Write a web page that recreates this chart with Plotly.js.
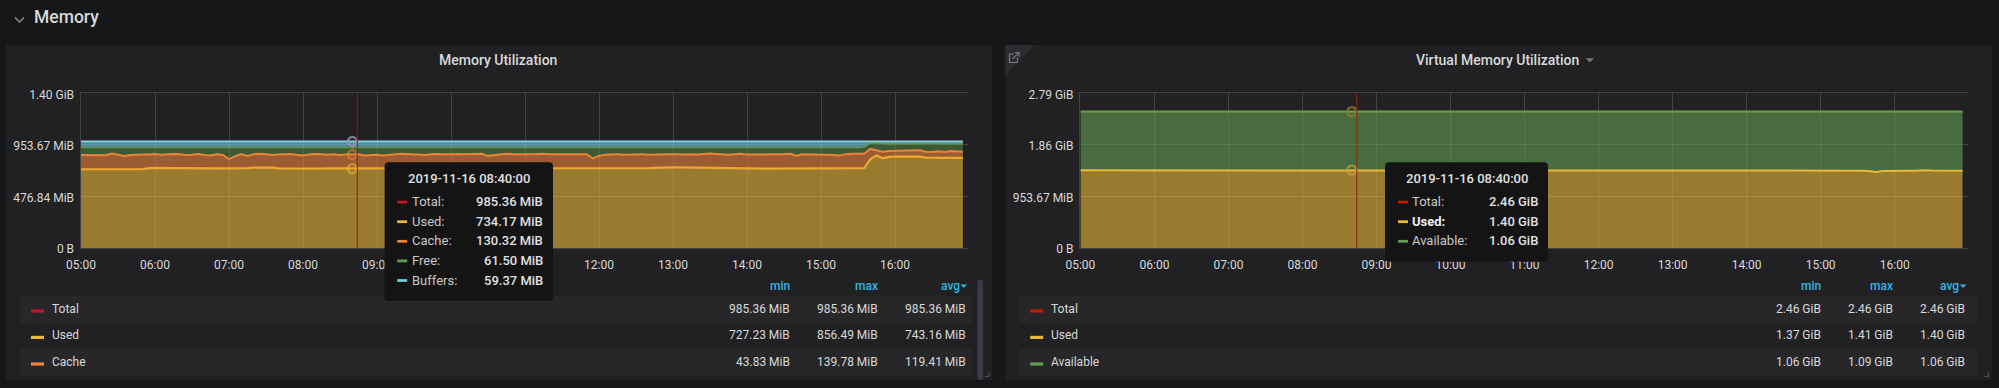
<!DOCTYPE html>
<html>
<head>
<meta charset="utf-8">
<script src="https://cdn.plot.ly/plotly-3.0.1.min.js"></script>
<style>html,body{margin:0;padding:0;background:#161719;overflow:hidden}#c{width:1999px;height:388px}</style>
</head>
<body>
<div id="c"></div>
<script>
// ---------- Memory Utilization, MiB, one reading every 5 minutes from 05:00 ----------
const memUsed = [728,728,728,727,727,728,728,728,728,728,729,
738,741,740,739,738,737,736,
735,735,735,735,735,736,736,736,736,
739,743,745,744,743,
736,735,735,735,735,
735,735,734,
737,737,737,735,734.17,
733,733,733,734,734,734,734,734,734,734,734,734,734,734,734,
734,734,733,733,733,734,734,734,734,734,734,734,734,
734,734,734,734,735,735,735,735,735,735,735,735,735,735,735,736,736,736,737,738,
741,744,745,745,745,744,742,740,
738,737,736,735,735,735,734,734,734,734,734,734,734,734,735,735,735,735,735,735,735,735,735,735,735,735,
738,822,856,830,843,846,846,847,847,845,835,834,834,834,834,834,834];
const memCache = [132,130,128,129,131,146,134,122,132,137,136,
127,129,122,129,132,129,124,
127,133,125,121,131,124,86,114,132,
113,125,127,122,117,
129,135,135,127,120,
129,135,134,
125,129,123,129,130.32,
133,123,125,128,122,124,132,138,134,128,126,126,136,138,134,
132,136,133,135,137,138,118,126,132,138,134,132,130,
134,136,138,132,131,135,137,137,137,133,93,117,127,131,133,126,130,128,131,124,
125,126,123,121,117,120,126,124,
132,137,134,129,127,131,138,130,128,130,130,132,130,132,137,119,131,133,129,127,129,125,121,133,137,135,
134,94,44,61,55,54,57,56,56,58,56,54,60,54,63,60,56];
const memFree = [70,72,74,74,72,56,68,80,70,65,65,
65,60,68,62,60,64,70,
68,62,70,74,64,70,108,80,62,
78,62,56,62,70,
65,60,58,64,72,
64,58,60,
66,62,68,63,61.5,
64,74,72,68,74,72,64,58,62,68,70,70,60,58,62,
64,60,64,62,60,58,78,70,64,58,62,64,66,
62,60,58,64,64,60,58,58,58,62,102,78,68,64,62,68,64,66,62,68,
64,60,62,64,68,66,62,66,
60,56,60,66,68,64,58,66,68,66,66,64,66,64,58,76,64,62,66,68,66,70,74,62,58,60,
62,54,74,77,64,64,62,63,63,62,73,77,70,76,68,70,74];
const memBuffers = [55,55,55,55,55,55,55,55,55,55,55,
55,55,55,55,55,55,55,
55,55,55,55,55,55,55,55,55,
55,57,57,57,55,
55,55,57,59,58,
55,55,55,
55,55,55,59,59.37,
55,55,55,55,55,55,55,55,55,55,55,55,55,55,55,
55,55,55,55,55,55,55,55,55,55,55,55,55,
55,55,55,55,55,55,55,55,55,55,55,55,57,57,55,55,57,57,55,55,
55,55,55,55,55,55,55,55,
55,55,55,55,55,55,55,55,55,55,55,55,55,55,55,55,55,55,55,55,55,55,55,55,55,55,
51,15,11,17,23,21,20,19,19,20,21,20,21,21,20,21,21];
const memTotalEnds = [985.36,985.36];

// ---------- Virtual Memory Utilization, GiB ----------
const vmUsed = [1.401,1.401,1.401,1.401,1.402,1.402,1.401,1.401,1.400,1.400,1.401,1.401,
1.401,1.402,1.402,1.402,1.402,1.403,1.403,1.403,1.403,1.403,1.403,1.403,
1.403,1.403,1.404,1.404,1.404,1.404,1.403,1.403,1.403,1.403,1.404,1.404,
1.404,1.404,1.404,1.405,1.405,1.405,1.404,1.404,1.404,1.404,1.404,1.404,
1.403,1.403,1.403,1.403,1.403,1.403,1.403,1.403,1.403,1.403,1.403,1.403,
1.403,1.403,1.403,1.403,1.403,1.403,1.403,1.403,1.403,1.403,1.403,1.403,
1.403,1.403,1.403,1.402,1.402,1.402,1.403,1.403,1.404,1.404,1.404,1.404,
1.404,1.404,1.404,1.405,1.405,1.405,1.404,1.404,1.404,1.404,1.405,1.405,
1.405,1.405,1.404,1.404,1.404,1.404,1.404,1.404,1.403,1.403,1.403,1.403,
1.403,1.403,1.403,1.402,1.402,1.403,1.403,1.403,1.403,1.403,1.403,1.403,
1.403,1.403,1.403,1.402,1.402,1.402,1.402,
1.395,1.385,1.372,1.388,1.392,1.392,1.392,1.391,1.391,1.398,1.400,1.396,1.398,1.397,1.396,1.396,1.395];
const vmAvailable = [1.059,1.059,1.059,1.059,1.058,1.058,1.059,1.059,1.060,1.060,1.059,1.059,
1.059,1.058,1.058,1.058,1.058,1.057,1.057,1.057,1.057,1.057,1.057,1.057,
1.057,1.057,1.056,1.056,1.056,1.056,1.057,1.057,1.057,1.057,1.056,1.056,
1.056,1.056,1.056,1.055,1.055,1.055,1.056,1.056,1.056,1.056,1.056,1.056,
1.057,1.057,1.057,1.057,1.057,1.057,1.057,1.057,1.057,1.057,1.057,1.057,
1.057,1.057,1.057,1.057,1.057,1.057,1.057,1.057,1.057,1.057,1.057,1.057,
1.057,1.057,1.057,1.058,1.058,1.058,1.057,1.057,1.056,1.056,1.056,1.056,
1.056,1.056,1.056,1.055,1.055,1.055,1.056,1.056,1.056,1.056,1.055,1.055,
1.055,1.055,1.056,1.056,1.056,1.056,1.056,1.056,1.057,1.057,1.057,1.057,
1.057,1.057,1.057,1.058,1.058,1.057,1.057,1.057,1.057,1.057,1.057,1.057,
1.057,1.057,1.057,1.058,1.058,1.058,1.058,
1.065,1.075,1.088,1.072,1.068,1.068,1.068,1.069,1.069,1.062,1.060,1.064,1.062,1.063,1.064,1.064,1.065];
const vmTotalEnds = [2.46,2.46];

// ---------- Labels ----------
const memTickVals = [0,476.84,953.67,1430.51];
const memTickText = ['0 B','476.84 MiB','953.67 MiB','1.40 GiB'];
const vmTickVals = [0,0.93132,1.8626,2.79];
const vmTickText = ['0 B','953.67 MiB','1.86 GiB','2.79 GiB'];
const memLegendNames = ['Total','Used','Cache'];
const memLegendMin = ['985.36 MiB','727.23 MiB','43.83 MiB'];
const memLegendMax = ['985.36 MiB','856.49 MiB','139.78 MiB'];
const memLegendAvg = ['985.36 MiB','743.16 MiB','119.41 MiB'];
const vmLegendNames = ['Total','Used','Available'];
const vmLegendMin = ['2.46 GiB','1.37 GiB','1.06 GiB'];
const vmLegendMax = ['2.46 GiB','1.41 GiB','1.09 GiB'];
const vmLegendAvg = ['2.46 GiB','1.40 GiB','1.06 GiB'];
const memTipNames = ['Total:','Used:','Cache:','Free:','Buffers:'];
const memTipValues = ['985.36 MiB','734.17 MiB','130.32 MiB','61.50 MiB','59.37 MiB'];
const vmTipNames = ['Total:','Used:','Available:'];
const vmTipValues = ['2.46 GiB','1.40 GiB','1.06 GiB'];
const hoverStamp = '2019-11-16 08:40:00';
const hoverLine = '2019-11-16 08:44:00';
const rangeStart = '2019-11-16 05:00:00';
const rangeEnd = '2019-11-16 16:59:10';
const lastPoint = '2019-11-16 16:55:00';

const C = {total:'#c4162a', totalV:'#bf1b00', used:'#eab839', cache:'#ef843c', free:'#629e51', buffers:'#6ed0e0'};

const times = memUsed.map((_, i) => {
  const m = 300 + i * 5, p = n => String(n).padStart(2, '0');
  return '2019-11-16 ' + p(Math.floor(m / 60)) + ':' + p(m % 60) + ':00';
});

const W = 1999, H = 388;
const fx = x => x / W, fy = y => 1 - y / H;

function alpha(hex, a) {
  const n = parseInt(hex.slice(1), 16);
  return 'rgba(' + (n >> 16) + ',' + ((n >> 8) & 255) + ',' + (n & 255) + ',' + a + ')';
}
const FILL = 0.6;
function stacked(name, y, color, axis, group, fill, lineColor, lw) {
  return {type:'scatter', mode:'lines', name, x:times, y, stackgroup:group, xaxis:'x'+axis, yaxis:'y'+axis,
    line:{color:lineColor || color, width:lw || 2, shape:'linear'}, fillcolor:fill || alpha(color, FILL)};
}
function hoverDot(y, color, axis, a) {
  return {type:'scatter', mode:'markers', x:[hoverStamp], y:[y], xaxis:'x'+axis, yaxis:'y'+axis,
    marker:{symbol:'circle-open', size:9, color:alpha(color, a), line:{width:2.4, color:alpha(color, a)}}};
}
const H8 = 44; // index of the 08:40 reading
const mU = memUsed[H8], mC = mU + memCache[H8], mF = mC + memFree[H8], mB = mF + memBuffers[H8];
const vU = vmUsed[H8], vA = vU + vmAvailable[H8];

const traces = [
  {type:'scatter', mode:'lines', x:[times[0], lastPoint], y:memTotalEnds, xaxis:'x', yaxis:'y', line:{color:C.total, width:1.8}},
  stacked('Used', memUsed, C.used, '', 'm', null, '#efa72f', 2.2),
  stacked('Cache', memCache, C.cache, '', 'm', null, '#e8843a', 2),
  stacked('Free', memFree, C.free, '', 'm', 'rgba(92,150,72,0.48)', '#5f9a50', 1.6),
  stacked('Buffers', memBuffers, C.buffers, '', 'm', 'rgba(110,200,225,0.62)', '#6ed0e0', 2),
  hoverDot(mB, '#8d93ad', '', .8), hoverDot(mC, C.cache, '', .5), hoverDot(mU, C.used, '', .55),

  {type:'scatter', mode:'lines', x:[times[0], lastPoint], y:vmTotalEnds, xaxis:'x2', yaxis:'y2', line:{color:C.totalV, width:1.8}},
  stacked('Used', vmUsed, C.used, '2', 'v'),
  stacked('Available', vmAvailable, C.free, '2', 'v'),
  hoverDot(2.46, '#8f7a2c', '2', .8), hoverDot(vU, '#c9a836', '2', .65)
];

// ---------- chrome helpers ----------
const shapes = [], annotations = [];
const TXT = '#d8d9da';
function rect(x0, y0, x1, y1, color, layer) {
  shapes.push({type:'rect', xref:'paper', yref:'paper', x0:fx(x0), x1:fx(x1), y0:fy(y0), y1:fy(y1),
    fillcolor:color, line:{width:0}, layer:layer || 'below'});
}
function poly(pts, fill, stroke, layer, sw) {
  const d = pts.map((p, i) => (i ? 'L' : 'M') + fx(p[0]) + ' ' + fy(p[1])).join(' ') + (fill ? ' Z' : '');
  shapes.push({type:'path', xref:'paper', yref:'paper', path:d, fillcolor:fill || 'rgba(0,0,0,0)',
    line:{width:stroke ? (sw || 1.5) : 0, color:stroke || 'rgba(0,0,0,0)'}, layer:layer || 'above'});
}
function rrect(x0, y0, x1, y1, r, color, layer) {
  const X = fx, Y = fy;
  const d = `M${X(x0+r)} ${Y(y0)} L${X(x1-r)} ${Y(y0)} Q${X(x1)} ${Y(y0)} ${X(x1)} ${Y(y0+r)} L${X(x1)} ${Y(y1-r)} Q${X(x1)} ${Y(y1)} ${X(x1-r)} ${Y(y1)} L${X(x0+r)} ${Y(y1)} Q${X(x0)} ${Y(y1)} ${X(x0)} ${Y(y1-r)} L${X(x0)} ${Y(y0+r)} Q${X(x0)} ${Y(y0)} ${X(x0+r)} ${Y(y0)} Z`;
  shapes.push({type:'path', xref:'paper', yref:'paper', path:d, fillcolor:color, line:{width:0}, layer:layer || 'above'});
}
function text(x, y, s, o) {
  o = o || {};
  annotations.push({xref:'paper', yref:'paper', x:fx(x), y:fy(y), text:s, showarrow:false,
    xanchor:o.a || 'left', yanchor:'middle', borderpad:0,
    font:{family:'Roboto, sans-serif', size:o.size || 12, color:o.color || TXT, weight:o.weight || 400}});
}

// panels
rect(6, 45, 992, 380, '#212124');
rect(1005.4, 45, 1991.7, 380, '#212124');

// section header
poly([[15,17.5],[19.5,22],[24,17.5]], null, '#8e8e8e', 'below', 1.5);
text(33, 17, 'Memory', {size:17.5, weight:500});

// titles
text(498, 60, 'Memory Utilization', {a:'center', size:14, weight:500});
text(1497.5, 60.3, 'Virtual Memory Utilization', {a:'center', size:14, weight:500});
poly([[1585.5,58.3],[1594,58.3],[1589.7,62.3]], '#7b7b7e', null, 'below');

// link corner
poly([[1005.4,45],[1034.5,45],[1005.4,75]], '#2c2c30', null, 'below');
poly([[1017.5,57.5],[1017.5,62.5],[1009.5,62.5],[1009.5,54],[1014,54]], null, '#7a7a7d', 'below', 1.2);
poly([[1012.5,59],[1019,52.5]], null, '#7a7a7d', 'below', 1.2);
poly([[1015,52.5],[1019,52.5],[1019,56.5]], null, '#7a7a7d', 'below', 1.2);

// legends
function legend(o) {
  rect(o.rowX0, 296, o.rowX1, 322.7, '#27272a');
  rect(o.rowX0, 349.3, o.rowX1, 376, '#27272a');
  text(o.minX, 286, 'min', {a:'right', color:'#33b5e5', weight:500});
  text(o.maxX, 286, 'max', {a:'right', color:'#33b5e5', weight:500});
  text(o.avgX - 6.5, 286, 'avg', {a:'right', color:'#33b5e5', weight:500});
  poly([[o.avgX-6.5,284.5],[o.avgX,284.5],[o.avgX-3.2,288]], '#33b5e5', null, 'below');
  const ys = [308.8, 335.2, 361.8];
  o.names.forEach((n, i) => {
    rect(o.swX, ys[i] + 0.6, o.swX + 13, ys[i] + 3.8, o.colors[i]);
    text(o.txtX, ys[i], n);
    text(o.minX, ys[i], o.min[i], {a:'right'});
    text(o.maxX, ys[i], o.max[i], {a:'right'});
    text(o.avgX, ys[i], o.avg[i], {a:'right'});
  });
}
legend({rowX0:20, rowX1:972, swX:31, txtX:50.5, minX:790.8, maxX:879, avgX:967,
  names:memLegendNames, min:memLegendMin, max:memLegendMax, avg:memLegendAvg, colors:[C.total, C.used, C.cache]});
legend({rowX0:1019, rowX1:1977.7, swX:1030.2, txtX:1050, minX:1821.7, maxX:1894, avgX:1966.3,
  names:vmLegendNames, min:vmLegendMin, max:vmLegendMax, avg:vmLegendAvg, colors:[C.totalV, C.used, C.free]});

// scrollbar and resize handles
rrect(977.5, 279.5, 983, 380, 2.5, '#3b3b4c', 'below');
poly([[985,376.5],[989,376.5],[989,372.5]], null, '#55555a', 'below', 1);
poly([[1984.5,376.5],[1988.5,376.5],[1988.5,372.5]], null, '#55555a', 'below', 1);

// crosshairs
shapes.push({type:'line', xref:'x', yref:'y', x0:hoverLine, x1:hoverLine, y0:0, y1:1430.51, line:{color:'#a5140f', width:1}, layer:'above'});
shapes.push({type:'line', xref:'x2', yref:'y2', x0:hoverLine, x1:hoverLine, y0:0, y1:2.79, line:{color:'#8a2a10', width:1}, layer:'above'});

// tooltips
function tip(o) {
  rrect(o.x0, o.y0, o.x1, o.y1, 4, '#141414', 'above');
  text((o.x0 + o.x1) / 2, o.y0 + 16.6, hoverStamp, {a:'center', size:13, weight:500, color:'#e0e0e2'});
  o.names.forEach((n, i) => {
    const y = 201.6 + i * 19.6;
    rect(o.swX, y - 0.9, o.swX + 10, y + 1.9, o.colors[i], 'above');
    text(o.txtX, y, n, {size:13, weight:o.bold === i ? 700 : 400, color:o.bold === i ? '#eeeeee' : '#c8c9ca'});
    text(o.valX, y, o.vals[i], {a:'right', size:13, weight:500, color:'#e0e0e2'});
  });
}
tip({x0:384.6, y0:162.3, x1:553, y1:301, swX:397.2, txtX:410.5, valX:543.5, names:memTipNames, vals:memTipValues,
  colors:[C.total, C.used, C.cache, C.free, C.buffers]});
tip({x0:1385, y0:162.3, x1:1548, y1:261.7, swX:1398, txtX:1411, valX:1538.5, names:vmTipNames, vals:vmTipValues,
  colors:[C.totalV, C.used, C.free], bold:1});

const GRID = 'rgba(255,255,255,0.16)', EDGE = '#434346';
function xAxis(domain, anchor) {
  return {type:'date', domain, anchor, range:[rangeStart, rangeEnd], tick0:rangeStart, dtick:3600000, tickformat:'%H:%M',
    showgrid:true, gridcolor:GRID, gridwidth:1, zeroline:false, showline:true, mirror:true, linecolor:EDGE, linewidth:1,
    ticks:'outside', ticklen:6, tickcolor:'rgba(0,0,0,0)',
    tickfont:{family:'Roboto, sans-serif', size:12, color:TXT}, fixedrange:true};
}
function yAxis(domain, anchor, top, vals, txt) {
  return {domain, anchor, range:[0, top], tickmode:'array', tickvals:vals, ticktext:txt,
    showgrid:true, gridcolor:GRID, gridwidth:1, zeroline:false, showline:true, linecolor:EDGE, linewidth:1,
    ticks:'outside', ticklen:3.5, tickcolor:'rgba(0,0,0,0)', ticklabelshift:1,
    tickfont:{family:'Roboto, sans-serif', size:12, color:TXT}, fixedrange:true};
}
const yDom = [fy(248), fy(93.3)];
const layout = {
  width:W, height:H, margin:{l:0, r:0, t:0, b:0, pad:0},
  paper_bgcolor:'#161719', plot_bgcolor:'rgba(0,0,0,0)', showlegend:false, hovermode:false,
  xaxis:xAxis([fx(81), fx(968)], 'y'),
  yaxis:yAxis(yDom, 'x', 1430.51, memTickVals, memTickText),
  xaxis2:xAxis([fx(1080.4), fx(1967.7)], 'y2'),
  yaxis2:yAxis(yDom, 'x2', 2.79, vmTickVals, vmTickText),
  shapes, annotations
};
Plotly.newPlot('c', traces, layout, {displayModeBar:false, responsive:false, staticPlot:true});
</script>
</body>
</html>
